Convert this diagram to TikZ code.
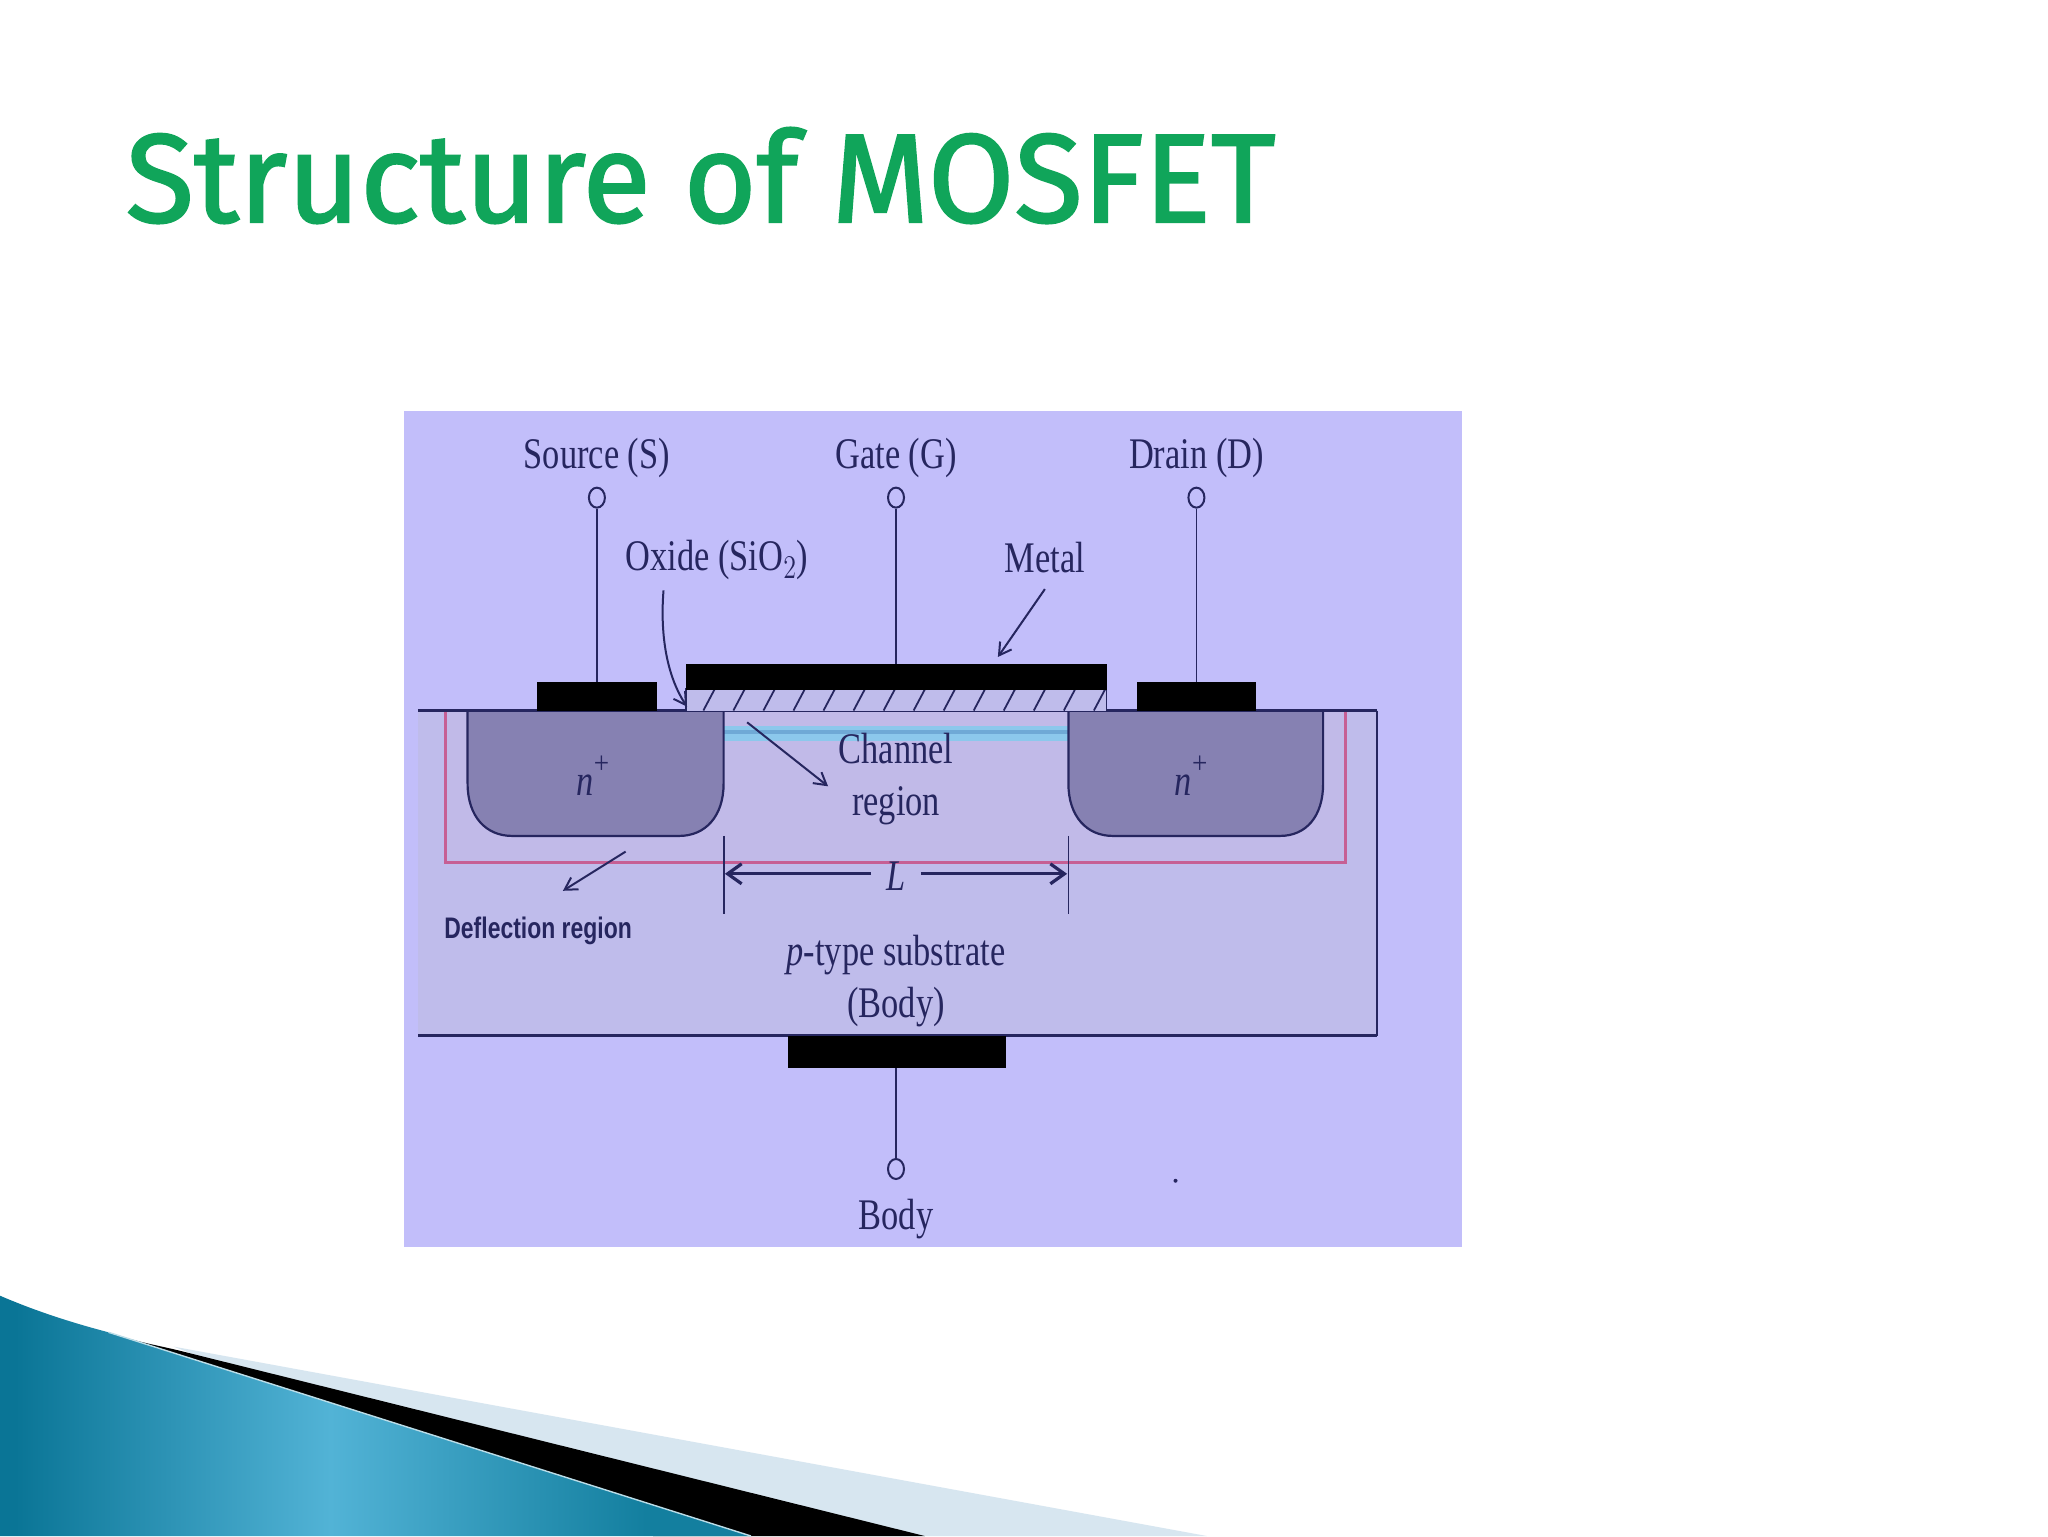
\documentclass[tikz,border=0pt]{standalone}
\usepackage{fontspec}
\setmainfont{Liberation Serif}
\newfontfamily\titlefont[FakeBold=1.6]{Fira Sans}
\newfontfamily\labelfont{Liberation Sans}
\usetikzlibrary{arrows.meta,positioning,shapes.geometric}
\definecolor{swA}{HTML}{0A7596}
\definecolor{swB}{HTML}{52B3D6}
\definecolor{swC}{HTML}{137F9F}
\definecolor{swlight}{HTML}{D7E6F0}
\definecolor{swedge}{HTML}{BBDDE8}
\definecolor{panel}{HTML}{C2BEFA}
\definecolor{subst}{HTML}{BFBCEB}
\definecolor{wellc}{HTML}{C1BAE8}
\definecolor{nfill}{HTML}{8681B2}
\definecolor{ink}{HTML}{26265F}
\definecolor{pinkline}{HTML}{C65F94}
\definecolor{chan}{HTML}{8CC8EC}
\definecolor{chand}{HTML}{6FA9D6}
\definecolor{titlegreen}{HTML}{10A55A}
\pgfdeclarehorizontalshading{swoosh}{100bp}{color(0bp)=(swA); color(26bp)=(swA); color(47bp)=(swB); color(68bp)=(swC); color(100bp)=(swC)}
\newcommand{\cond}[1]{\scalebox{0.905}[1.15]{#1}}
\newcommand{\nplus}{\textit{n}\raisebox{0.5em}{\scalebox{1}[0.9]{\fontsize{15}{15}\selectfont +}}}
\tikzset{
  txt/.style={font=\fontsize{19}{22}\selectfont,text=ink,inner sep=0pt,align=center},
  term/.style={ellipse,draw=ink,line width=1pt,fill=panel,minimum width=8pt,minimum height=10pt,inner sep=0pt},
  pad/.style={fill=black,draw=none,inner sep=0pt,anchor=north west},
  wire/.style={draw=ink,line width=0.9pt},
  pointer/.style={draw=ink,line width=1pt,-{Straight Barb[length=6pt,width=7pt,line width=1pt]}},
  dim/.style={draw=ink,line width=1.5pt,-{Straight Barb[length=7pt,width=10pt,line width=1.6pt]}},
  nwell/.style={draw=ink,line width=1.1pt,fill=nfill}
}
\begin{document}
\begin{tikzpicture}[x=0.65306pt,y=-0.65306pt]
\useasboundingbox (0,0) rectangle (1568,1176);
\fill[white] (0,0) rectangle (1568,1176);
% title
\node[anchor=base west,inner sep=0pt,text=titlegreen,font=\titlefont\fontsize{65}{70}\selectfont] (title) at (96,170) {\scalebox{0.962}[0.97]{Structure of MOSFET}};
% slide swoosh
\fill[swlight] (133,1031) -- (924,1176) -- (500,1176) -- cycle;
\fill[black] (83,1020) .. controls (100,1026) and (115,1029) .. (133,1033) -- (708,1176) -- (500,1176) -- cycle;
\begin{scope}
\clip (0,992) .. controls (30,1005) and (60,1014) .. (83,1020) -- (575,1176) -- (0,1176) -- cycle;
\shade[shading=swoosh] (0,992) rectangle (575,1176);
\end{scope}
\draw[swedge,line width=0.7pt] (83,1020) -- (575,1176);
% panel
\fill[panel] (309,315) rectangle (1119,955);
% substrate
\fill[subst] (320,544) rectangle (1054,793);
\fill[wellc] (341,544) rectangle (1030,660);
\fill[chan] (554,556) rectangle (818,567);
\fill[chand] (554,559) rectangle (818,562);
\draw[pinkline,line width=1.5pt] (341,544) -- (341,660) -- (1030,660) -- (1030,544);
% wells
\draw[nwell] (358,544) -- (358,600) .. controls (358,625) and (372,640) .. (392,640) -- (520,640) .. controls (540,640) and (554,625) .. (554,600) -- (554,544) -- cycle;
\draw[nwell] (818,544) -- (818,600) .. controls (818,625) and (832,640) .. (852,640) -- (980,640) .. controls (1000,640) and (1013,625) .. (1013,600) -- (1013,544) -- cycle;
% substrate outline
\draw[ink,line width=1.3pt] (320,544) -- (1054,544);
\draw[ink,line width=0.9pt] (1054,544) -- (1054,793);
\draw[ink,line width=1.7pt] (1054,793) -- (320,793);
% oxide
\fill[subst] (525,527) rectangle (847,544);
\foreach \xx in {538.5,561.5,584.5,607.5,630.5,653.5,676.5,699.5,722.5,745.5,768.5,791.5,814.5,837.5}
  \draw[ink,line width=0.9pt] (\xx,544) -- (\xx+9,527);
\draw[ink,line width=0.8pt] (525,527) -- (525,544) (847,527) -- (847,544);
% pads
\node[pad,minimum width=60.1pt,minimum height=14.4pt] (sp) at (411,522) {};
\node[pad,minimum width=59.4pt,minimum height=14.4pt] (dp) at (870,522) {};
\node[pad,minimum width=210.3pt,minimum height=12.9pt] (gp) at (525,508) {};
\node[pad,minimum width=109pt,minimum height=15.7pt] (bp) at (603,793) {};
% terminals
\node[term] (st) at (457,381) {};
\node[term] (gt) at (686,381) {};
\node[term] (dt) at (916,381) {};
\node[term] (bt) at (686,895) {};
\draw[wire] (st) -- (st |- sp.north);
\draw[wire] (gt) -- (gt |- gp.north);
\draw[wire] (dt) -- (dt |- dp.north);
\draw[wire] (bt) -- (bt |- bp.south);
% labels
\node[txt] (ls) at (457,351) {\cond{Source (S)}};
\node[txt] (lg) at (686,351) {\cond{Gate (G)}};
\node[txt] (ld) at (916,351) {\cond{Drain (D)}};
\node[txt] (lo) at (549,429) {\cond{Oxide (SiO$_2$)}};
\node[txt] (lm) at (800,427) {\cond{Metal}};
\node[txt] (lc) at (686,573) {\cond{Channel}};
\node[txt] (lr) at (686,617) {\cond{region}};
\node[txt] (n1) at (454,594) {\cond{\nplus}};
\node[txt] (n2) at (912,594) {\cond{\nplus}};
\node[txt] (ll) at (686,671) {\cond{\textit{L}}};
\node[txt] (lp) at (686,731) {\cond{\textit{p}-type substrate}};
\node[txt] (lb) at (686,771) {\cond{(Body)}};
\node[txt] (lbb) at (686,933) {\cond{Body}};
\node[txt,font=\labelfont\bfseries\fontsize{13.5}{16}\selectfont] (ldf) at (412,713) {\scalebox{0.85}[1.1]{Deflection region}};
% pointers
\coordinate (ot) at (526,541);
\coordinate (oo) at (508,452);
\coordinate (mo) at (800,451);
\coordinate (mt) at (764,503);
\coordinate (co) at (572,553);
\coordinate (ct) at (634,602);
\coordinate (do) at (479,652);
\coordinate (dtip) at (431,682);
\draw[pointer] (oo) .. controls (505,490) and (512,520) .. (ot);
\draw[pointer] (mo) -- (mt);
\draw[pointer] (co) -- (ct);
\draw[pointer] (do) -- (dtip);
% dimension L
\coordinate (l1) at (554,640); \coordinate (l1b) at (554,700);
\coordinate (l2) at (818,640); \coordinate (l2b) at (818,700);
\coordinate (a1) at (555,669); \coordinate (a2) at (817,669);
\coordinate (a1s) at (667,669); \coordinate (a2s) at (705,669);
\draw[wire] (l1) -- (l1b);
\draw[wire] (l2) -- (l2b);
\draw[dim] (a1s) -- (a1);
\draw[dim] (a2s) -- (a2);
% speck
\fill[ink] (900,904) circle (1pt);
\end{tikzpicture}
\end{document}
